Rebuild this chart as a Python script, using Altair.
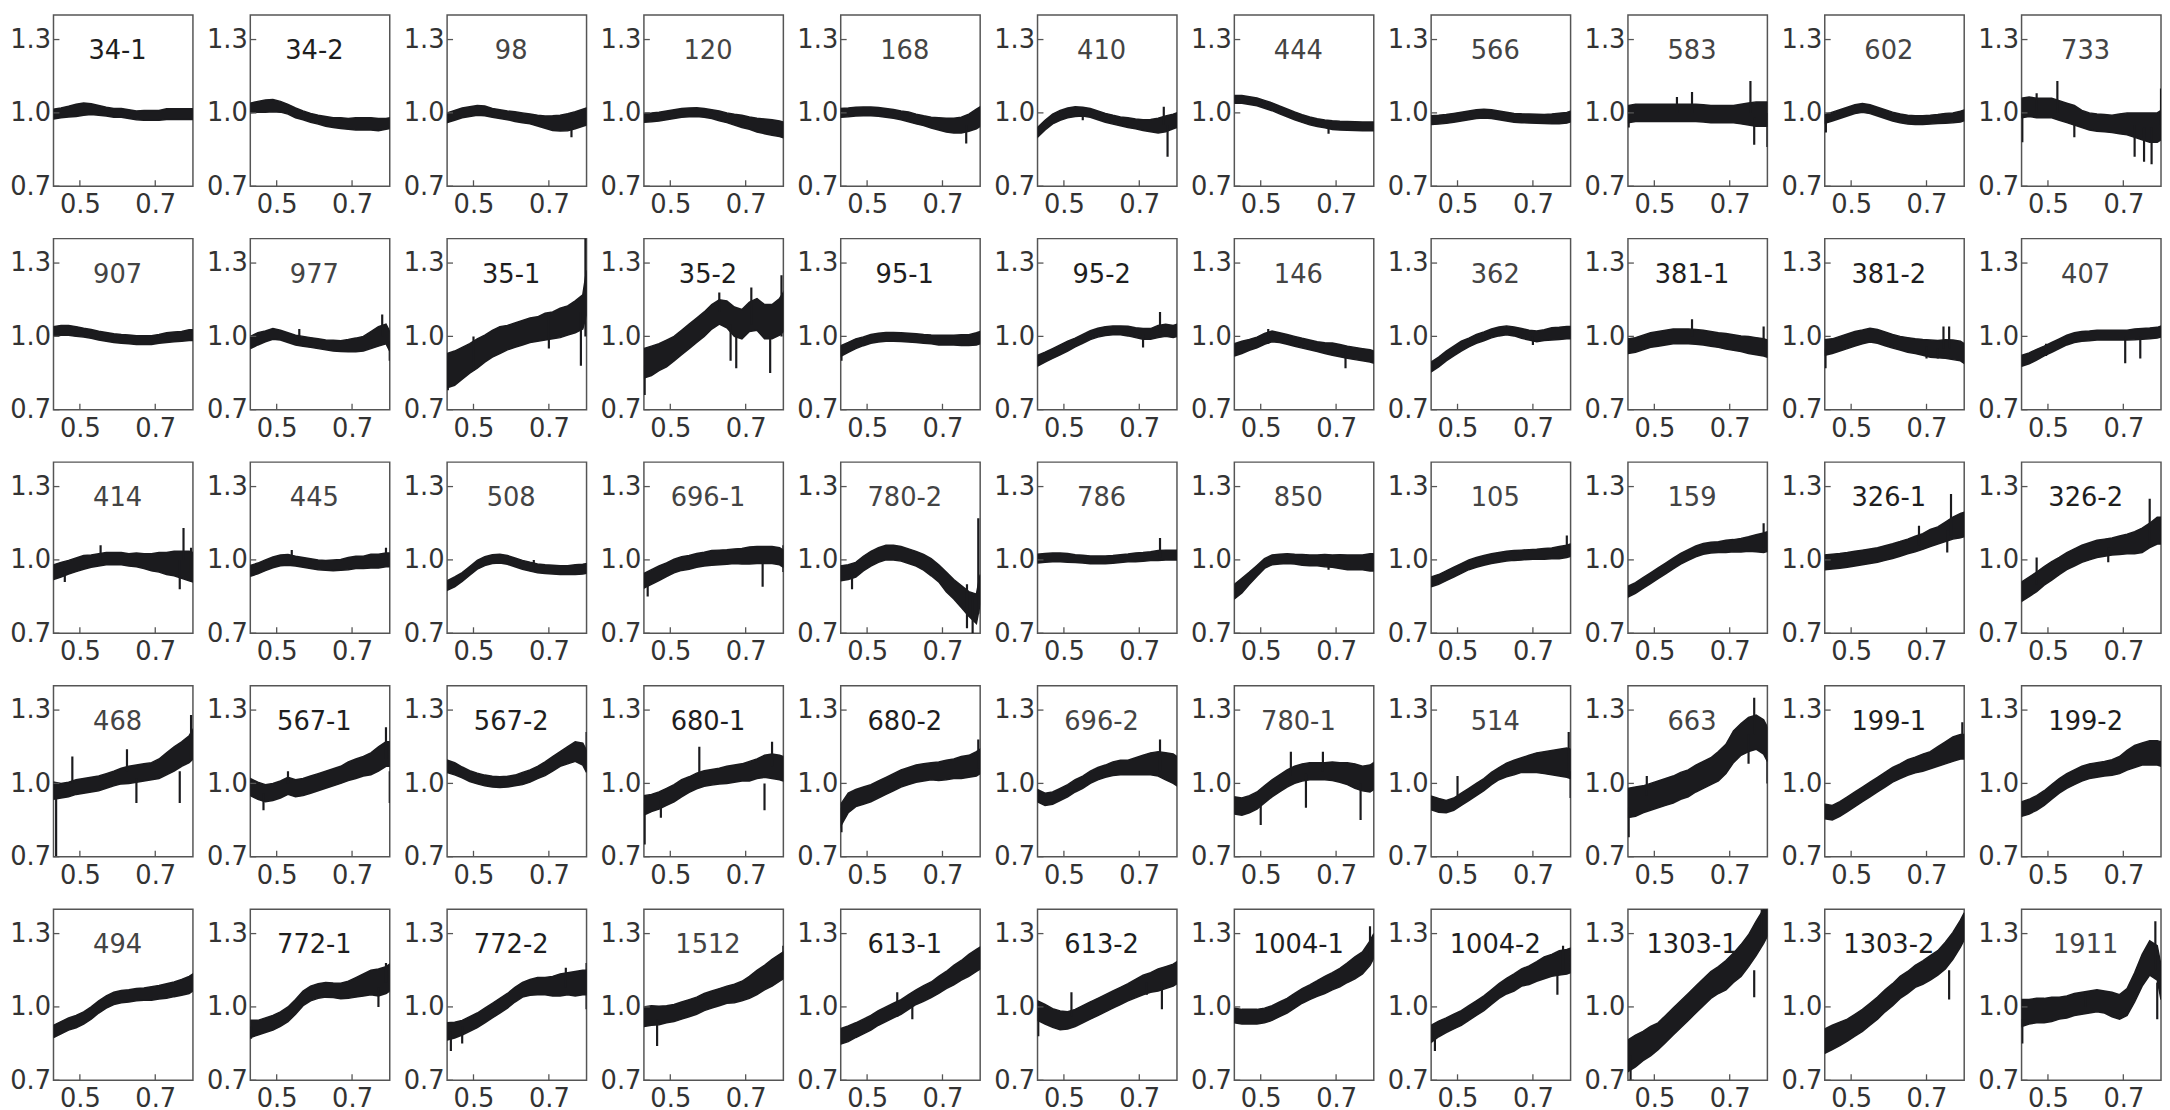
import altair as alt
import pandas as pd

# ---------------- data ----------------
X_GRID = [0.43, 0.45, 0.47, 0.49, 0.51, 0.53, 0.55, 0.57, 0.59, 0.61,
          0.63, 0.65, 0.67, 0.69, 0.71, 0.73, 0.75, 0.77, 0.79, 0.80]
X_TICKS = [0.5, 0.7]
Y_TICKS = [0.7, 1.0, 1.3]

NAMES_R1 = ["34-1", "34-2", "98", "120", "168", "410", "444", "566", "583", "602", "733"]
NAMES_R2 = ["907", "977", "35-1", "35-2", "95-1", "95-2", "146", "362", "381-1", "381-2", "407"]
NAMES_R3 = ["414", "445", "508", "696-1", "780-2", "786", "850", "105", "159", "326-1", "326-2"]
NAMES_R4 = ["468", "567-1", "567-2", "680-1", "680-2", "696-2", "780-1", "514", "663", "199-1", "199-2"]
NAMES_R5 = ["494", "772-1", "772-2", "1512", "613-1", "613-2", "1004-1", "1004-2", "1303-1", "1303-2", "1911"]

CENTER_R1 = [
    [0.995, 1.0, 1.005, 1.01, 1.015, 1.015, 1.01, 1.005, 1.0, 1.0, 0.995, 0.99, 0.99, 0.99, 0.99, 0.995, 0.995, 0.995, 0.995, 0.995],
    [1.02, 1.025, 1.028, 1.03, 1.025, 1.015, 1.0, 0.99, 0.98, 0.972, 0.965, 0.96, 0.958, 0.955, 0.955, 0.955, 0.955, 0.952, 0.955, 0.958],
    [0.98, 0.99, 1.0, 1.005, 1.01, 1.008, 1.0, 0.995, 0.99, 0.985, 0.98, 0.975, 0.968, 0.962, 0.958, 0.958, 0.962, 0.97, 0.98, 0.985],
    [0.98, 0.982, 0.985, 0.99, 0.995, 1.0, 1.002, 1.003, 1.0, 0.995, 0.988, 0.98, 0.972, 0.965, 0.958, 0.95, 0.945, 0.94, 0.935, 0.93],
    [1.0, 1.002, 1.005, 1.006, 1.006, 1.004, 1.0, 0.996, 0.99, 0.984, 0.975, 0.968, 0.96, 0.955, 0.95, 0.948, 0.95, 0.96, 0.975, 0.985],
    [0.92, 0.95, 0.975, 0.99, 1.0, 1.005, 1.005, 1.0, 0.99, 0.98, 0.972, 0.965, 0.96, 0.955, 0.95, 0.948, 0.948, 0.955, 0.965, 0.97],
    [1.055, 1.055, 1.05, 1.045, 1.035, 1.025, 1.012, 1.0, 0.988, 0.977, 0.967, 0.96, 0.955, 0.95, 0.948, 0.947, 0.946, 0.945, 0.945, 0.945],
    [0.97, 0.972, 0.975, 0.98, 0.985, 0.99, 0.995, 0.997, 0.995, 0.99, 0.985, 0.98, 0.978, 0.977, 0.976, 0.975, 0.975, 0.977, 0.98, 0.985],
    [0.995, 1.0, 1.0, 1.0, 1.0, 1.0, 1.0, 1.0, 1.0, 1.0, 0.998, 0.995, 0.995, 0.995, 0.995, 0.995, 0.995, 0.995, 0.995, 0.995],
    [0.975, 0.985, 0.995, 1.005, 1.015, 1.02, 1.015, 1.005, 0.995, 0.985, 0.978, 0.972, 0.97, 0.97, 0.972, 0.975, 0.978, 0.98, 0.985, 0.99],
    [1.02, 1.025, 1.02, 1.02, 1.02, 1.01, 1.0, 0.99, 0.975, 0.965, 0.96, 0.958, 0.955, 0.955, 0.955, 0.95, 0.945, 0.94, 0.94, 0.95],
]
CENTER_R2 = [
    [1.02, 1.025, 1.025, 1.02, 1.015, 1.01, 1.003, 0.998, 0.993, 0.99, 0.988, 0.985, 0.985, 0.985, 0.99, 0.995, 0.998, 1.0, 1.005, 1.005],
    [0.975, 0.99, 1.0, 1.01, 1.005, 0.995, 0.985, 0.98, 0.975, 0.97, 0.965, 0.962, 0.96, 0.962, 0.965, 0.97, 0.985, 1.0, 1.01, 0.98],
    [0.86, 0.87, 0.89, 0.91, 0.93, 0.95, 0.97, 0.985, 0.995, 1.005, 1.015, 1.025, 1.03, 1.04, 1.045, 1.055, 1.065, 1.08, 1.1, 1.18],
    [0.89, 0.9, 0.915, 0.93, 0.95, 0.975, 1.0, 1.025, 1.05, 1.08, 1.1, 1.09, 1.06, 1.05, 1.08, 1.09, 1.06, 1.06, 1.08, 1.1],
    [0.94, 0.955, 0.97, 0.98, 0.99, 0.995, 0.998, 0.998, 0.997, 0.995, 0.993, 0.99, 0.988, 0.985, 0.985, 0.985, 0.985, 0.985, 0.99, 0.995],
    [0.9, 0.915, 0.93, 0.945, 0.96, 0.975, 0.99, 1.005, 1.015, 1.022, 1.025, 1.025, 1.022, 1.015, 1.01, 1.01, 1.02, 1.025, 1.02, 1.025],
    [0.945, 0.955, 0.965, 0.975, 0.99, 1.0, 0.995, 0.988, 0.98, 0.972, 0.965, 0.958, 0.952, 0.948, 0.942, 0.935, 0.93, 0.925, 0.92, 0.915],
    [0.875, 0.895, 0.92, 0.94, 0.96, 0.975, 0.99, 1.0, 1.012, 1.02, 1.025, 1.02, 1.012, 1.005, 1.0, 1.005, 1.01, 1.012, 1.015, 1.015],
    [0.96, 0.965, 0.975, 0.985, 0.99, 0.995, 1.0, 1.0, 1.0, 0.998, 0.995, 0.99, 0.985, 0.98, 0.975, 0.97, 0.965, 0.96, 0.955, 0.95],
    [0.955, 0.96, 0.97, 0.98, 0.99, 0.998, 1.005, 1.0, 0.99, 0.98, 0.972, 0.965, 0.96, 0.955, 0.95, 0.948, 0.948, 0.945, 0.94, 0.93],
    [0.9, 0.91, 0.925, 0.94, 0.955, 0.97, 0.985, 0.995, 1.0, 1.002, 1.005, 1.005, 1.005, 1.005, 1.005, 1.008, 1.01, 1.012, 1.015, 1.02],
]
CENTER_R3 = [
    [0.95, 0.96, 0.97, 0.98, 0.99, 0.995, 1.0, 1.005, 1.005, 1.005, 1.0, 1.0, 0.995, 0.99, 0.99, 0.985, 0.985, 0.98, 0.975, 0.97],
    [0.955, 0.965, 0.978, 0.99, 0.998, 1.0, 0.995, 0.99, 0.985, 0.98, 0.978, 0.978, 0.98, 0.985, 0.99, 0.99, 0.995, 0.995, 1.0, 1.0],
    [0.895, 0.91, 0.93, 0.955, 0.98, 0.995, 1.003, 1.005, 1.0, 0.99, 0.98, 0.972, 0.965, 0.962, 0.96, 0.958, 0.958, 0.96, 0.962, 0.965],
    [0.915, 0.93, 0.945, 0.96, 0.975, 0.985, 0.99, 0.998, 1.003, 1.008, 1.01, 1.012, 1.015, 1.015, 1.018, 1.02, 1.02, 1.02, 1.015, 1.005],
    [0.945, 0.95, 0.96, 0.985, 1.005, 1.02, 1.03, 1.03, 1.025, 1.015, 1.005, 0.99, 0.97, 0.945, 0.91, 0.88, 0.85, 0.82, 0.8, 0.88],
    [1.005, 1.008, 1.01, 1.01, 1.008, 1.005, 1.003, 1.0, 1.0, 1.0, 1.002, 1.005, 1.008, 1.01, 1.012, 1.015, 1.018, 1.02, 1.02, 1.02],
    [0.87, 0.895, 0.925, 0.955, 0.985, 1.0, 1.003, 1.005, 1.003, 1.0, 0.998, 0.998, 0.997, 0.995, 0.993, 0.99, 0.99, 0.99, 0.99, 0.99],
    [0.91, 0.92, 0.935, 0.95, 0.965, 0.98, 0.99, 0.998, 1.005, 1.01, 1.015, 1.018, 1.02, 1.022, 1.024, 1.025, 1.027, 1.03, 1.035, 1.04],
    [0.87, 0.885, 0.905, 0.925, 0.945, 0.965, 0.985, 1.005, 1.02, 1.035, 1.045, 1.05, 1.052, 1.055, 1.058, 1.06, 1.065, 1.068, 1.07, 1.075],
    [0.99, 0.993, 0.996, 1.0, 1.005, 1.01, 1.015, 1.02, 1.028, 1.036, 1.045, 1.055, 1.065, 1.075, 1.09, 1.1, 1.115, 1.13, 1.14, 1.145],
    [0.87, 0.89, 0.91, 0.935, 0.955, 0.975, 0.995, 1.01, 1.025, 1.035, 1.045, 1.05, 1.055, 1.06, 1.065, 1.07, 1.08, 1.1, 1.12, 1.12],
]
CENTER_R4 = [
    [0.97, 0.97, 0.975, 0.985, 0.99, 0.995, 1.0, 1.01, 1.02, 1.03, 1.035, 1.04, 1.045, 1.05, 1.06, 1.08, 1.1, 1.12, 1.14, 1.16],
    [0.985, 0.97, 0.96, 0.965, 0.975, 0.99, 0.98, 0.985, 0.995, 1.005, 1.015, 1.025, 1.035, 1.05, 1.06, 1.07, 1.08, 1.1, 1.12, 1.12],
    [1.07, 1.06, 1.045, 1.03, 1.02, 1.012, 1.007, 1.005, 1.007, 1.012, 1.02, 1.03, 1.045, 1.06, 1.08, 1.1, 1.115, 1.13, 1.12, 1.09],
    [0.91, 0.92, 0.93, 0.945, 0.96, 0.98, 0.995, 1.01, 1.02, 1.025, 1.03, 1.035, 1.04, 1.045, 1.05, 1.06, 1.07, 1.07, 1.065, 1.06],
    [0.87, 0.92, 0.94, 0.95, 0.96, 0.975, 0.99, 1.005, 1.02, 1.03, 1.04, 1.045, 1.05, 1.05, 1.055, 1.06, 1.065, 1.07, 1.08, 1.09],
    [0.95, 0.935, 0.94, 0.955, 0.97, 0.99, 1.005, 1.025, 1.04, 1.05, 1.06, 1.065, 1.065, 1.07, 1.075, 1.08, 1.08, 1.07, 1.06, 1.05],
    [0.91, 0.905, 0.915, 0.93, 0.955, 0.98, 1.0, 1.02, 1.035, 1.045, 1.05, 1.05, 1.05, 1.05, 1.045, 1.04, 1.03, 1.02, 1.02, 1.03],
    [0.92, 0.91, 0.905, 0.915, 0.935, 0.955, 0.975, 0.995, 1.02, 1.04, 1.055, 1.065, 1.075, 1.08, 1.085, 1.085, 1.085, 1.085, 1.085, 1.08],
    [0.92, 0.925, 0.935, 0.945, 0.955, 0.965, 0.975, 0.99, 1.0, 1.02, 1.035, 1.05, 1.07, 1.1, 1.15, 1.18, 1.2, 1.21, 1.19, 1.16],
    [0.885, 0.88, 0.895, 0.915, 0.935, 0.955, 0.975, 0.995, 1.015, 1.035, 1.05, 1.065, 1.075, 1.085, 1.095, 1.11, 1.125, 1.14, 1.15, 1.15],
    [0.895, 0.905, 0.92, 0.94, 0.965, 0.99, 1.01, 1.025, 1.04, 1.05, 1.055, 1.06, 1.065, 1.075, 1.095, 1.11, 1.12, 1.125, 1.125, 1.12],
]
CENTER_R5 = [
    [0.9, 0.915, 0.93, 0.94, 0.955, 0.975, 1.0, 1.02, 1.035, 1.042, 1.045, 1.05, 1.052, 1.055, 1.06, 1.065, 1.072, 1.08, 1.09, 1.1],
    [0.91, 0.915, 0.925, 0.935, 0.95, 0.97, 1.0, 1.035, 1.055, 1.065, 1.07, 1.068, 1.065, 1.07, 1.08, 1.09, 1.1, 1.1, 1.11, 1.12],
    [0.9, 0.905, 0.915, 0.93, 0.945, 0.965, 0.985, 1.005, 1.025, 1.05, 1.07, 1.08, 1.085, 1.085, 1.085, 1.09, 1.095, 1.095, 1.1, 1.1],
    [0.96, 0.965, 0.965, 0.97, 0.975, 0.985, 0.995, 1.005, 1.02, 1.03, 1.04, 1.05, 1.055, 1.065, 1.08, 1.1, 1.12, 1.14, 1.16, 1.17],
    [0.88, 0.89, 0.905, 0.92, 0.935, 0.955, 0.97, 0.985, 1.0, 1.02, 1.04, 1.055, 1.07, 1.09, 1.11, 1.13, 1.15, 1.17, 1.19, 1.2],
    [0.985, 0.97, 0.955, 0.945, 0.945, 0.955, 0.97, 0.985, 1.0, 1.015, 1.03, 1.045, 1.06, 1.075, 1.09, 1.1, 1.11, 1.12, 1.13, 1.14],
    [0.965, 0.96, 0.96, 0.96, 0.965, 0.975, 0.99, 1.005, 1.025, 1.045, 1.06, 1.075, 1.09, 1.105, 1.12, 1.14, 1.16, 1.18, 1.22, 1.25],
    [0.89, 0.91, 0.925, 0.94, 0.955, 0.975, 0.995, 1.015, 1.04, 1.065, 1.085, 1.1, 1.12, 1.13, 1.145, 1.16, 1.17, 1.18, 1.185, 1.19],
    [0.8, 0.82, 0.84, 0.86, 0.88, 0.91, 0.94, 0.97, 1.0, 1.03, 1.06, 1.09, 1.11, 1.13, 1.16, 1.19, 1.23, 1.28, 1.33, 1.36],
    [0.86, 0.875, 0.89, 0.905, 0.925, 0.945, 0.97, 0.995, 1.025, 1.05, 1.08, 1.1, 1.125, 1.14, 1.16, 1.18, 1.21, 1.25, 1.3, 1.33],
    [0.975, 0.98, 0.985, 0.985, 0.99, 0.995, 1.0, 1.01, 1.015, 1.02, 1.025, 1.02, 1.01, 1.0, 1.02, 1.08, 1.15, 1.2, 1.18, 1.1],
]

# half-width of the noisy band at each grid point
SPREAD_R1 = [
    [0.020, 0.020, 0.022, 0.025, 0.025, 0.022, 0.020, 0.018, 0.018, 0.018, 0.018, 0.018, 0.020, 0.020, 0.020, 0.022, 0.022, 0.022, 0.022, 0.022],
    [0.020, 0.022, 0.025, 0.025, 0.022, 0.020, 0.020, 0.018, 0.018, 0.018, 0.020, 0.020, 0.022, 0.022, 0.025, 0.025, 0.025, 0.025, 0.022, 0.022],
    [0.020, 0.020, 0.020, 0.020, 0.020, 0.020, 0.018, 0.018, 0.018, 0.020, 0.020, 0.020, 0.022, 0.025, 0.030, 0.032, 0.035, 0.035, 0.035, 0.035],
    [0.018, 0.018, 0.018, 0.018, 0.018, 0.018, 0.018, 0.018, 0.018, 0.018, 0.020, 0.020, 0.022, 0.025, 0.025, 0.028, 0.030, 0.032, 0.032, 0.032],
    [0.018, 0.018, 0.018, 0.018, 0.018, 0.018, 0.018, 0.018, 0.018, 0.020, 0.020, 0.020, 0.022, 0.025, 0.028, 0.030, 0.032, 0.035, 0.040, 0.040],
    [0.020, 0.020, 0.020, 0.020, 0.020, 0.020, 0.018, 0.018, 0.018, 0.018, 0.018, 0.018, 0.020, 0.020, 0.022, 0.025, 0.030, 0.032, 0.030, 0.030],
    [0.016, 0.016, 0.016, 0.016, 0.016, 0.016, 0.016, 0.016, 0.016, 0.016, 0.016, 0.016, 0.016, 0.018, 0.018, 0.018, 0.018, 0.018, 0.018, 0.018],
    [0.018, 0.018, 0.018, 0.018, 0.018, 0.018, 0.018, 0.018, 0.018, 0.018, 0.018, 0.018, 0.018, 0.018, 0.018, 0.018, 0.020, 0.022, 0.022, 0.022],
    [0.035, 0.035, 0.035, 0.035, 0.035, 0.035, 0.035, 0.035, 0.035, 0.035, 0.035, 0.035, 0.035, 0.035, 0.035, 0.040, 0.045, 0.050, 0.050, 0.050],
    [0.018, 0.018, 0.018, 0.018, 0.018, 0.018, 0.018, 0.018, 0.018, 0.018, 0.018, 0.018, 0.018, 0.018, 0.018, 0.018, 0.020, 0.020, 0.022, 0.022],
    [0.040, 0.040, 0.040, 0.040, 0.040, 0.040, 0.040, 0.040, 0.035, 0.035, 0.035, 0.035, 0.035, 0.040, 0.045, 0.050, 0.055, 0.060, 0.060, 0.060],
]
SPREAD_R2 = [
    [0.020, 0.020, 0.020, 0.020, 0.018, 0.018, 0.018, 0.018, 0.018, 0.018, 0.018, 0.018, 0.018, 0.018, 0.018, 0.020, 0.020, 0.020, 0.022, 0.022],
    [0.025, 0.025, 0.022, 0.022, 0.020, 0.020, 0.020, 0.020, 0.020, 0.020, 0.020, 0.022, 0.022, 0.025, 0.028, 0.030, 0.035, 0.040, 0.040, 0.040],
    [0.070, 0.070, 0.065, 0.060, 0.060, 0.055, 0.055, 0.055, 0.050, 0.050, 0.050, 0.050, 0.050, 0.055, 0.055, 0.060, 0.060, 0.065, 0.070, 0.090],
    [0.060, 0.060, 0.055, 0.055, 0.050, 0.050, 0.050, 0.050, 0.050, 0.050, 0.050, 0.055, 0.060, 0.060, 0.060, 0.065, 0.070, 0.070, 0.075, 0.080],
    [0.022, 0.020, 0.020, 0.018, 0.018, 0.018, 0.018, 0.018, 0.018, 0.018, 0.018, 0.018, 0.018, 0.020, 0.020, 0.020, 0.022, 0.022, 0.025, 0.025],
    [0.022, 0.020, 0.020, 0.020, 0.020, 0.018, 0.018, 0.018, 0.018, 0.018, 0.018, 0.018, 0.020, 0.020, 0.022, 0.022, 0.025, 0.025, 0.025, 0.025],
    [0.025, 0.025, 0.022, 0.022, 0.022, 0.022, 0.020, 0.020, 0.020, 0.020, 0.020, 0.020, 0.022, 0.025, 0.025, 0.025, 0.025, 0.025, 0.025, 0.025],
    [0.020, 0.020, 0.020, 0.020, 0.020, 0.018, 0.018, 0.018, 0.018, 0.018, 0.018, 0.018, 0.020, 0.020, 0.022, 0.022, 0.025, 0.025, 0.025, 0.025],
    [0.030, 0.030, 0.030, 0.030, 0.030, 0.030, 0.030, 0.030, 0.030, 0.030, 0.030, 0.030, 0.030, 0.032, 0.032, 0.032, 0.035, 0.035, 0.035, 0.035],
    [0.032, 0.030, 0.030, 0.030, 0.030, 0.028, 0.028, 0.028, 0.028, 0.028, 0.028, 0.030, 0.030, 0.032, 0.035, 0.035, 0.038, 0.040, 0.040, 0.040],
    [0.022, 0.022, 0.022, 0.020, 0.020, 0.020, 0.020, 0.020, 0.020, 0.020, 0.020, 0.020, 0.020, 0.020, 0.020, 0.022, 0.022, 0.022, 0.022, 0.022],
]
SPREAD_R3 = [
    [0.030, 0.030, 0.028, 0.028, 0.028, 0.025, 0.025, 0.025, 0.025, 0.025, 0.025, 0.028, 0.030, 0.035, 0.040, 0.045, 0.050, 0.055, 0.060, 0.060],
    [0.022, 0.022, 0.022, 0.022, 0.022, 0.022, 0.020, 0.020, 0.020, 0.020, 0.020, 0.022, 0.022, 0.025, 0.025, 0.025, 0.028, 0.028, 0.028, 0.028],
    [0.020, 0.020, 0.018, 0.018, 0.018, 0.018, 0.018, 0.018, 0.018, 0.018, 0.018, 0.018, 0.018, 0.018, 0.018, 0.018, 0.018, 0.020, 0.020, 0.020],
    [0.030, 0.030, 0.030, 0.028, 0.028, 0.028, 0.028, 0.028, 0.028, 0.030, 0.030, 0.030, 0.030, 0.032, 0.035, 0.035, 0.035, 0.035, 0.035, 0.035],
    [0.030, 0.030, 0.030, 0.030, 0.030, 0.030, 0.030, 0.030, 0.030, 0.030, 0.030, 0.032, 0.035, 0.035, 0.040, 0.040, 0.045, 0.050, 0.060, 0.060],
    [0.018, 0.018, 0.018, 0.018, 0.018, 0.016, 0.016, 0.016, 0.016, 0.016, 0.016, 0.016, 0.016, 0.018, 0.018, 0.018, 0.020, 0.020, 0.020, 0.020],
    [0.030, 0.030, 0.025, 0.022, 0.020, 0.020, 0.020, 0.020, 0.020, 0.022, 0.022, 0.022, 0.025, 0.025, 0.028, 0.030, 0.030, 0.030, 0.035, 0.035],
    [0.020, 0.020, 0.020, 0.020, 0.020, 0.020, 0.020, 0.020, 0.020, 0.020, 0.020, 0.020, 0.020, 0.020, 0.020, 0.022, 0.022, 0.025, 0.025, 0.025],
    [0.022, 0.022, 0.022, 0.022, 0.022, 0.022, 0.022, 0.022, 0.022, 0.022, 0.022, 0.022, 0.022, 0.025, 0.025, 0.028, 0.030, 0.035, 0.040, 0.040],
    [0.030, 0.030, 0.030, 0.030, 0.030, 0.030, 0.030, 0.030, 0.030, 0.030, 0.030, 0.030, 0.032, 0.032, 0.035, 0.035, 0.040, 0.045, 0.050, 0.050],
    [0.040, 0.040, 0.040, 0.038, 0.038, 0.035, 0.035, 0.035, 0.035, 0.035, 0.035, 0.035, 0.035, 0.038, 0.040, 0.045, 0.050, 0.050, 0.055, 0.055],
]
SPREAD_R4 = [
    [0.035, 0.030, 0.030, 0.030, 0.030, 0.030, 0.030, 0.030, 0.030, 0.032, 0.035, 0.035, 0.035, 0.035, 0.040, 0.045, 0.050, 0.050, 0.055, 0.060],
    [0.035, 0.035, 0.035, 0.035, 0.035, 0.035, 0.035, 0.035, 0.035, 0.035, 0.035, 0.035, 0.035, 0.038, 0.040, 0.040, 0.045, 0.050, 0.050, 0.050],
    [0.025, 0.025, 0.022, 0.022, 0.022, 0.022, 0.022, 0.022, 0.022, 0.022, 0.025, 0.025, 0.025, 0.028, 0.030, 0.030, 0.035, 0.040, 0.045, 0.045],
    [0.040, 0.035, 0.035, 0.035, 0.035, 0.035, 0.032, 0.032, 0.032, 0.032, 0.032, 0.035, 0.035, 0.035, 0.040, 0.040, 0.045, 0.050, 0.050, 0.050],
    [0.045, 0.040, 0.035, 0.035, 0.035, 0.035, 0.035, 0.035, 0.035, 0.035, 0.035, 0.035, 0.035, 0.038, 0.040, 0.040, 0.045, 0.045, 0.050, 0.050],
    [0.025, 0.025, 0.025, 0.025, 0.025, 0.025, 0.025, 0.025, 0.025, 0.025, 0.028, 0.030, 0.030, 0.035, 0.040, 0.045, 0.050, 0.055, 0.060, 0.060],
    [0.035, 0.035, 0.035, 0.035, 0.035, 0.035, 0.035, 0.035, 0.035, 0.035, 0.035, 0.035, 0.035, 0.038, 0.040, 0.045, 0.050, 0.050, 0.055, 0.055],
    [0.028, 0.028, 0.025, 0.025, 0.025, 0.025, 0.025, 0.025, 0.025, 0.025, 0.028, 0.030, 0.030, 0.035, 0.040, 0.045, 0.050, 0.055, 0.060, 0.060],
    [0.060, 0.060, 0.055, 0.055, 0.055, 0.055, 0.055, 0.055, 0.055, 0.055, 0.055, 0.055, 0.060, 0.060, 0.065, 0.065, 0.070, 0.070, 0.070, 0.070],
    [0.030, 0.030, 0.030, 0.030, 0.030, 0.030, 0.030, 0.030, 0.030, 0.030, 0.030, 0.032, 0.032, 0.035, 0.035, 0.040, 0.045, 0.050, 0.050, 0.050],
    [0.030, 0.030, 0.030, 0.030, 0.030, 0.030, 0.030, 0.030, 0.030, 0.030, 0.030, 0.030, 0.032, 0.035, 0.040, 0.045, 0.045, 0.050, 0.050, 0.050],
]
SPREAD_R5 = [
    [0.025, 0.025, 0.025, 0.025, 0.025, 0.025, 0.025, 0.025, 0.025, 0.025, 0.025, 0.025, 0.025, 0.028, 0.028, 0.030, 0.030, 0.032, 0.035, 0.035],
    [0.035, 0.030, 0.030, 0.030, 0.030, 0.030, 0.030, 0.030, 0.030, 0.030, 0.030, 0.030, 0.032, 0.035, 0.040, 0.045, 0.050, 0.055, 0.055, 0.055],
    [0.035, 0.032, 0.030, 0.030, 0.030, 0.030, 0.030, 0.030, 0.030, 0.030, 0.030, 0.032, 0.035, 0.035, 0.040, 0.045, 0.045, 0.050, 0.050, 0.050],
    [0.040, 0.040, 0.038, 0.035, 0.035, 0.035, 0.035, 0.035, 0.035, 0.035, 0.035, 0.035, 0.038, 0.040, 0.045, 0.050, 0.050, 0.055, 0.055, 0.055],
    [0.032, 0.032, 0.030, 0.030, 0.030, 0.030, 0.030, 0.030, 0.030, 0.030, 0.030, 0.032, 0.032, 0.035, 0.035, 0.040, 0.040, 0.045, 0.045, 0.045],
    [0.040, 0.040, 0.038, 0.038, 0.035, 0.035, 0.035, 0.035, 0.035, 0.035, 0.035, 0.035, 0.035, 0.038, 0.040, 0.040, 0.045, 0.045, 0.045, 0.045],
    [0.030, 0.030, 0.030, 0.030, 0.030, 0.030, 0.030, 0.030, 0.030, 0.030, 0.030, 0.032, 0.035, 0.035, 0.038, 0.040, 0.045, 0.045, 0.050, 0.050],
    [0.035, 0.032, 0.030, 0.030, 0.030, 0.030, 0.030, 0.030, 0.030, 0.030, 0.032, 0.035, 0.035, 0.038, 0.040, 0.045, 0.045, 0.050, 0.050, 0.050],
    [0.065, 0.065, 0.060, 0.060, 0.055, 0.055, 0.055, 0.055, 0.055, 0.055, 0.055, 0.055, 0.055, 0.060, 0.060, 0.065, 0.065, 0.070, 0.070, 0.070],
    [0.050, 0.050, 0.048, 0.045, 0.045, 0.045, 0.045, 0.045, 0.045, 0.045, 0.045, 0.045, 0.045, 0.048, 0.050, 0.050, 0.055, 0.055, 0.055, 0.055],
    [0.055, 0.050, 0.050, 0.050, 0.050, 0.045, 0.045, 0.045, 0.045, 0.045, 0.045, 0.045, 0.050, 0.050, 0.055, 0.060, 0.065, 0.070, 0.070, 0.070],
]

# isolated spikes: (panel, x, low, high)
SPIKES = [
    ("98", 0.76, 0.90, 0.96), ("168", 0.763, 0.875, 0.95),
    ("410", 0.775, 0.82, 0.95), ("410", 0.765, 0.95, 1.025), ("410", 0.55, 0.97, 1.0),
    ("444", 0.68, 0.915, 0.95),
    ("583", 0.56, 1.0, 1.065), ("583", 0.60, 1.0, 1.085), ("583", 0.755, 1.0, 1.13),
    ("583", 0.765, 0.87, 0.98), ("583", 0.80, 0.86, 1.0), ("583", 0.432, 0.94, 1.0),
    ("602", 0.433, 0.92, 0.99),
    ("733", 0.525, 1.0, 1.13), ("733", 0.47, 1.0, 1.08), ("733", 0.57, 0.90, 0.97),
    ("733", 0.73, 0.82, 0.95), ("733", 0.755, 0.80, 0.94), ("733", 0.775, 0.79, 0.94),
    ("733", 0.80, 0.95, 1.10), ("733", 0.432, 0.88, 1.0),
    ("977", 0.78, 1.0, 1.09), ("977", 0.80, 0.90, 0.98), ("977", 0.56, 0.97, 1.03),
    ("35-1", 0.797, 1.0, 1.42), ("35-1", 0.785, 0.88, 1.10), ("35-1", 0.432, 0.78, 0.90),
    ("35-1", 0.70, 0.95, 1.10), ("35-1", 0.50, 0.86, 1.0),
    ("35-2", 0.432, 0.76, 0.88), ("35-2", 0.66, 0.90, 1.05), ("35-2", 0.675, 0.87, 1.0),
    ("35-2", 0.715, 1.05, 1.20), ("35-2", 0.765, 0.85, 1.0), ("35-2", 0.795, 1.0, 1.25),
    ("35-2", 0.63, 1.10, 1.18),
    ("95-1", 0.432, 0.90, 0.96),
    ("95-2", 0.71, 0.955, 1.01), ("95-2", 0.755, 1.02, 1.10),
    ("146", 0.725, 0.87, 0.94), ("146", 0.52, 0.97, 1.03),
    ("362", 0.70, 0.965, 1.0),
    ("381-1", 0.60, 1.0, 1.07), ("381-1", 0.79, 0.95, 1.04),
    ("381-2", 0.432, 0.87, 0.95), ("381-2", 0.745, 0.95, 1.04), ("381-2", 0.76, 0.95, 1.04),
    ("381-2", 0.70, 0.91, 0.96), ("381-2", 0.73, 0.91, 0.95),
    ("407", 0.705, 0.89, 1.0), ("407", 0.745, 0.91, 1.0), ("407", 0.495, 0.92, 0.97),
    ("414", 0.555, 1.0, 1.06), ("414", 0.765, 0.88, 1.0), ("414", 0.775, 1.0, 1.13),
    ("414", 0.795, 0.91, 1.05), ("414", 0.46, 0.91, 0.97),
    ("445", 0.54, 1.0, 1.04), ("445", 0.79, 1.0, 1.05),
    ("508", 0.66, 0.96, 1.0),
    ("696-1", 0.745, 0.89, 1.0), ("696-1", 0.80, 0.95, 1.06), ("696-1", 0.44, 0.85, 0.93),
    ("780-2", 0.46, 0.88, 0.95), ("780-2", 0.765, 0.72, 0.90), ("780-2", 0.78, 0.70, 0.85),
    ("780-2", 0.795, 0.78, 1.17),
    ("786", 0.755, 1.01, 1.09),
    ("850", 0.68, 0.96, 1.0),
    ("105", 0.79, 1.03, 1.10), ("159", 0.79, 1.05, 1.15),
    ("326-1", 0.68, 1.06, 1.14), ("326-1", 0.765, 1.10, 1.27), ("326-1", 0.755, 1.03, 1.12),
    ("326-2", 0.47, 0.90, 1.01), ("326-2", 0.77, 1.05, 1.25), ("326-2", 0.66, 0.99, 1.05),
    ("468", 0.437, 0.70, 0.95), ("468", 0.48, 1.0, 1.11), ("468", 0.625, 1.05, 1.14),
    ("468", 0.65, 0.92, 1.02), ("468", 0.765, 0.92, 1.05), ("468", 0.795, 1.10, 1.28),
    ("567-1", 0.465, 0.89, 0.96), ("567-1", 0.53, 1.0, 1.05), ("567-1", 0.80, 0.92, 1.05),
    ("567-1", 0.79, 1.10, 1.23),
    ("567-2", 0.80, 1.05, 1.21),
    ("680-1", 0.432, 0.75, 0.92), ("680-1", 0.475, 0.86, 0.93), ("680-1", 0.577, 1.02, 1.15),
    ("680-1", 0.75, 0.89, 1.0), ("680-1", 0.77, 1.07, 1.17),
    ("680-2", 0.432, 0.80, 0.90), ("680-2", 0.795, 1.06, 1.18),
    ("696-2", 0.755, 1.05, 1.18),
    ("780-1", 0.50, 0.83, 0.93), ("780-1", 0.58, 1.03, 1.13), ("780-1", 0.62, 0.90, 1.04),
    ("780-1", 0.665, 1.05, 1.13), ("780-1", 0.765, 0.85, 1.0),
    ("514", 0.50, 0.95, 1.03), ("514", 0.795, 1.05, 1.21), ("514", 0.80, 0.94, 1.05),
    ("663", 0.432, 0.78, 0.90), ("663", 0.765, 1.20, 1.35), ("663", 0.75, 1.08, 1.20),
    ("663", 0.80, 1.0, 1.10), ("663", 0.48, 0.95, 1.03),
    ("199-1", 0.795, 1.10, 1.25),
    ("772-1", 0.77, 1.0, 1.08), ("772-1", 0.79, 1.10, 1.18), ("772-1", 0.432, 0.87, 0.92),
    ("772-2", 0.44, 0.82, 0.90), ("772-2", 0.47, 0.85, 0.92), ("772-2", 0.745, 1.08, 1.16),
    ("772-2", 0.80, 0.99, 1.18),
    ("1512", 0.465, 0.84, 0.95), ("1512", 0.80, 1.15, 1.25),
    ("613-1", 0.58, 0.96, 1.06), ("613-1", 0.62, 0.95, 1.0),
    ("613-2", 0.432, 0.88, 0.98), ("613-2", 0.52, 0.96, 1.06), ("613-2", 0.76, 0.99, 1.10),
    ("613-2", 0.72, 1.05, 1.10),
    ("1004-1", 0.79, 1.20, 1.33),
    ("1004-2", 0.44, 0.82, 0.90), ("1004-2", 0.765, 1.05, 1.15), ("1004-2", 0.78, 1.15, 1.25),
    ("1303-1", 0.437, 0.68, 0.80), ("1303-1", 0.765, 1.04, 1.15), ("1303-1", 0.785, 1.25, 1.40),
    ("1303-2", 0.76, 1.03, 1.15),
    ("1911", 0.432, 0.85, 0.95), ("1911", 0.79, 0.95, 1.10), ("1911", 0.785, 1.15, 1.35),
    ("1911", 0.60, 1.0, 1.06),
]

# label position (data units) for each panel's name
TITLE_X = 0.6
TITLE_Y = 1.22

# ---------------- styling ----------------
INK = "#1b1b1e"
FRAME = "#555555"
LABEL = "#333333"
DARK_TITLES = {"34-1", "34-2", "35-1", "35-2", "95-1", "95-2", "381-1", "381-2",
               "326-1", "326-2", "567-1", "567-2", "680-1", "680-2", "199-1", "199-2",
               "772-1", "772-2", "613-1", "613-2", "1004-1", "1004-2", "1303-1", "1303-2"}
W, H = 141, 173
XDOM = [0.43, 0.80]
YDOM = [0.7, 1.4]
FONT = "DejaVu Sans"


def xenc(field):
    return alt.X(f"{field}:Q", scale=alt.Scale(domain=XDOM, nice=False, zero=False),
                 axis=alt.Axis(values=X_TICKS, format=".1f"), title=None)


def yenc(field):
    return alt.Y(f"{field}:Q", scale=alt.Scale(domain=YDOM, nice=False, zero=False),
                 axis=alt.Axis(values=Y_TICKS, format=".1f"), title=None)


def panel(name, center, spread):
    df = pd.DataFrame({"x": X_GRID, "c": center, "s": spread})
    df["lo"] = df["c"] - df["s"]
    df["hi"] = df["c"] + df["s"]
    band = alt.Chart(df).mark_area(color=INK, stroke=INK, strokeWidth=1.5,
                                   clip=True).encode(x=xenc("x"), y=yenc("lo"), y2="hi:Q")
    sp = [s for s in SPIKES if s[0] == name]
    sdf = pd.DataFrame({"x": [s[1] for s in sp], "lo": [s[2] for s in sp],
                        "hi": [s[3] for s in sp]})
    spikes = alt.Chart(sdf).mark_rule(color=INK, strokeWidth=2.2,
                                      clip=True).encode(x=xenc("x"), y=yenc("lo"), y2="hi:Q")
    xt = alt.Chart(pd.DataFrame({"v": X_TICKS})).mark_rule(color=FRAME, strokeWidth=1.3).encode(
        x=xenc("v"), y=alt.value(H), y2=alt.value(H - 6))
    yt = alt.Chart(pd.DataFrame({"v": Y_TICKS})).mark_rule(color=FRAME, strokeWidth=1.3).encode(
        y=yenc("v"), x=alt.value(0), x2=alt.value(6))
    tdf = pd.DataFrame({"tx": [TITLE_X], "ty": [TITLE_Y], "t": [name]})
    title = alt.Chart(tdf).mark_text(
        font=FONT, fontSize=26, align="center", baseline="alphabetic",
        color="#1e1e1e" if name in DARK_TITLES else "#444444").encode(
        x=xenc("tx"), y=yenc("ty"), text="t:N")
    return alt.layer(band, spikes, xt, yt, title).properties(width=W, height=H)


ROWS = [
    (NAMES_R1, CENTER_R1, SPREAD_R1),
    (NAMES_R2, CENTER_R2, SPREAD_R2),
    (NAMES_R3, CENTER_R3, SPREAD_R3),
    (NAMES_R4, CENTER_R4, SPREAD_R4),
    (NAMES_R5, CENTER_R5, SPREAD_R5),
]

rows = []
for names, centers, spreads in ROWS:
    rows.append(alt.hconcat(*[panel(n, c, s) for n, c, s in zip(names, centers, spreads)],
                            spacing=11))

chart = alt.vconcat(*rows, spacing=19).properties(
    padding={"left": 0, "top": 0, "right": 0, "bottom": 0}
).configure(font=FONT).configure_view(
    stroke=FRAME, strokeWidth=1.5
).configure_axis(
    labelFont=FONT, labelFontSize=26, labelColor=LABEL, ticks=False, tickSize=0,
    domain=False, grid=False, labelFlush=False
).configure_axisX(labelPadding=6).configure_axisY(labelPadding=3)

chart.save("out.html", embed_options={"renderer": "svg", "actions": False})
